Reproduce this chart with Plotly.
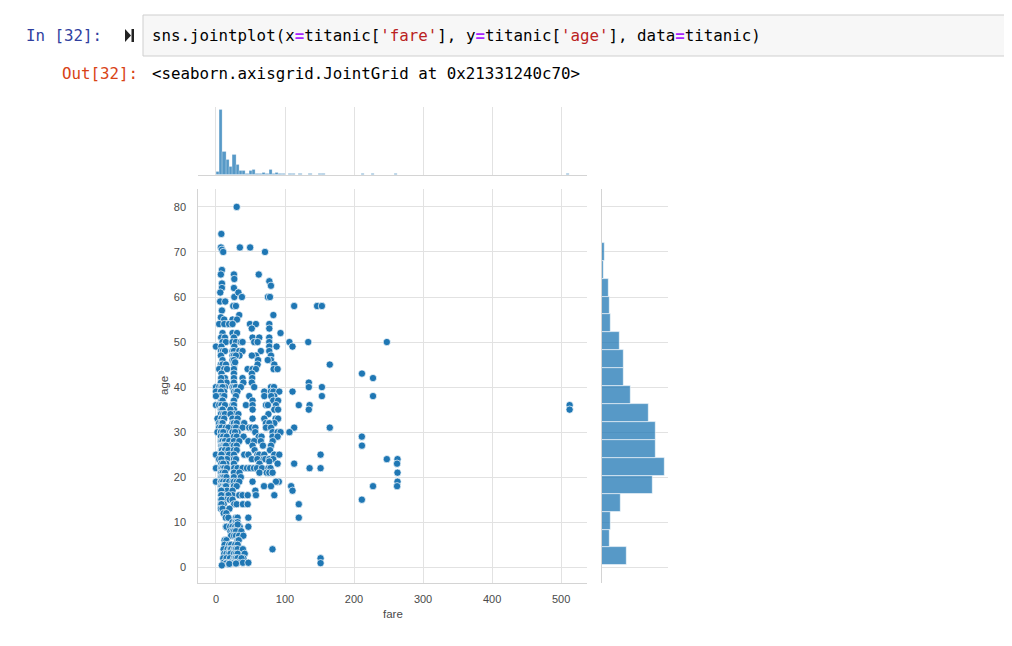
import plotly.graph_objects as go

# ---------------- scatter data (fare, age) ----------------
f1 = [30, 7.78, 7.23, 8.6, 10.5, 34.65, 49.5, 71.0]
a1 = [80, 74, 71, 70.5, 70, 71, 71, 70]
f2 = [8.6, 7.1, 26.0, 26.55, 61.98, 8.66, 8.6, 6.24, 26.0, 26.55, 32.5, 37.6, 77.3, 79.65, 75.25, 78.2, 6.1, 13.4]
a2 = [66, 65, 65, 64, 65, 63, 62, 61, 62, 60, 61, 60, 63.5, 62.5, 60, 60, 59, 59]
f3 = [8.6, 25.0, 28.9, 113.28, 146.52, 153.46, 7.1, 11.9, 24.0, 33.7, 83.16, 16.7, 30.5]
a3 = [57, 58, 58, 58, 58, 58, 55.5, 55, 55, 56, 56, 54, 55]
f4 = [4.6, 12.0, 19.0, 24.0, 49.2, 57.9, 77.29, 51.86, 77.29, 9.5, 24.0, 30.5, 53.0, 62.7, 77.2, 93.5, 7.5, 26.0, 13.0]
a4 = [54, 54, 54, 54, 54, 54, 54, 53, 53, 52, 52, 52, 51, 51, 51, 52, 51, 51, 51]
f5 = [0.0, 9.5, 14.3, 24.0, 28.9, 36.0, 38.5, 55.4, 60.3, 77.2, 77.3, 87.8, 106.43, 110.88, 133.65, 247.52, 7.8, 26.55]
a5 = [49, 50, 50, 50, 50, 50, 50, 50, 50, 50, 49, 49, 50, 49, 50, 50, 49, 49]
f6 = [7.1, 10.0, 13.0, 24.0, 26.0, 33.7, 38.5, 65.0, 77.2, 34.0, 7.1, 24.0, 26.0, 28.9, 57.9, 79.7, 52.0,
      9.5, 24.0, 26.0, 61.0, 79.7, 75.0]
a6 = [48, 48, 48, 48, 48, 48, 48, 48, 48, 47, 47, 47, 47, 47, 47, 47, 47,
      46, 46, 46, 46, 46, 46]
f7 = [7.1, 9.5, 14.5, 26.5, 27.7, 60.3, 84.5, 83.5, 164.87, 4.6, 11.9, 16.0, 26.0, 45.8, 53.0, 57.9, 89.3,
      211.5, 8.0, 26.0, 52.0]
a7 = [45, 45, 45, 45, 45.5, 45, 45, 44, 45, 44, 44, 44, 44, 44, 44, 44, 44,
      43, 43, 43, 43]
f8 = [9.5, 13.0, 26.0, 38.5, 227.52, 52.55, 7.5, 15.5, 7.1, 26.0, 39.7, 134.5, 51.9]
a8 = [42, 42, 42, 42, 42, 42, 42, 41, 41, 41, 41, 41, 41]
f9 = [0.0, 4.6, 7.8, 11.9, 24.0, 26.4, 28.9, 36.1, 55.4, 79.7, 84.0, 153.46, 134.5, 13.0, 9.5,
      0.0, 7.9, 11.9, 26.4, 29.1, 31.0, 70.0, 79.7, 83.2, 91.7, 110.88, 7.2]
a9 = [40, 40, 40, 40, 40, 40, 40, 40, 40, 40, 40, 40, 40, 40, 40,
      39, 39, 39, 39, 39, 39, 39, 39, 39, 39, 39, 39]
f10 = [4.6, 7.9, 11.9, 28.9, 48.2, 70.0, 84.5, 153.46, 227.52, 0.0, 80.0,
       7.9, 9.5, 26.0, 53.0, 83.0, 90.0]
a10 = [38, 38, 38, 38, 38, 38, 38, 38, 38, 38, 38,
       37, 37, 37, 37, 37, 37]
f11 = [0.0, 4.6, 7.9, 24.0, 26.0, 43.4, 53.0, 72.4, 86.9, 120.0, 135.63, 512.33, 75.25, 13.0,
       7.1, 8.0, 9.5, 24.0, 26.0, 53.1, 84.5, 90.0, 134.5, 512.33, 21.0]
a11 = [36, 36, 36, 36, 36, 36, 36, 36, 36, 36, 36, 36, 36, 36,
       35, 35, 35, 35, 35, 35, 35, 35, 35, 35, 35]
f12 = [7.1, 10.5, 13.0, 26.0, 32.5, 21.0, 76.0,
       2.2, 7.9, 11.9, 24.0, 31.3, 53.0, 70.0, 89.3, 86.5, 90.0]
a12 = [34, 34, 34, 34, 34, 34, 34,
       33, 33, 33, 33, 33, 33, 33, 33, 33, 33]
f13 = [4.6, 7.8, 9.5, 24.0, 26.0, 30.0, 40.9, 72.4, 84.5, 77.2,
       4.6, 7.8, 14.3, 18.0, 26.4, 29.0, 38.5, 48.2, 52.0, 72.4, 79.7, 113.28, 164.87, 57.0,
       2.2, 7.1, 8.0, 13.0, 24.0, 31.3, 56.9, 82.0, 89.3, 93.5, 106.43, 7.2, 10.5, 27.7]
a13 = [32, 32, 32, 32, 32, 32, 32, 32, 32, 32,
       31, 31, 31, 31, 31, 31, 31, 31, 31, 31, 31, 31, 31, 31,
       30, 30, 30, 30, 30, 30, 30, 30, 30, 30, 30, 30, 30, 30]
f14 = [7.1, 10.5, 15.5, 26.0, 30.0, 40.0, 62.0, 66.0, 211.34, 82.0, 89.3,
       7.1, 7.9, 9.5, 13.0, 19.2, 26.0, 33.7, 47.0, 55.4, 65.0, 82.2,
       7.8, 9.5, 11.0, 13.0, 21.0, 26.0, 30.0, 53.0, 68.0, 79.7, 211.5, 14.5]
a14 = [29, 29, 29, 29, 29, 29, 29, 29, 29, 29, 29,
       28, 28, 28, 28, 28, 28, 28, 28, 28, 28, 28,
       27, 27, 27, 27, 27, 27, 27, 27, 27, 27, 27, 27]
f15 = [7.8, 8.7, 13.0, 18.0, 26.0, 30.0, 56.0, 78.3,
       0.0, 7.1, 9.5, 13.0, 19.0, 26.0, 41.0, 47.0, 60.0, 62.7, 70.0, 84.5, 91.7, 151.55, 7.9,
       4.6, 9.0, 13.0, 16.0, 26.0, 29.0, 52.0, 60.0, 69.0, 71.5, 77.2, 83.0, 247.52, 263.0, 7.8]
a15 = [26, 26, 26, 26, 26, 26, 26, 26,
       25, 25, 25, 25, 25, 25, 25, 25, 25, 25, 25, 25, 25, 25, 25,
       24, 24, 24, 24, 24, 24, 24, 24, 24, 24, 24, 24, 24, 24, 24]
f16 = [7.9, 13.0, 15.0, 63.0, 89.3, 113.28, 262.38, 10.5, 26.0, 77.2,
       0.0, 7.2, 7.8, 9.5, 12.0, 16.0, 26.4, 31.3, 38.5, 45.0, 49.5, 55.0, 59.4, 66.6, 76.0, 79.0, 135.63, 151.55,
       7.1, 7.8, 9.8, 13.0, 26.0, 34.0, 63.0, 73.5, 77.3, 263.0, 82.0]
a16 = [23, 23, 23, 23, 23, 23, 23, 23, 23, 23.5,
       22, 22, 22, 22, 22, 22, 22, 22, 22, 22, 22, 22, 22, 22, 22, 22, 22, 22,
       21, 21, 21, 21, 21, 21, 21, 21, 21, 21, 21]
f17 = [7.1, 8.0, 9.8, 12.0, 15.2, 26.0, 36.0,
       0.0, 7.1, 8.0, 10.5, 14.5, 19.2, 24.0, 26.0, 30.0, 33.7, 53.0, 91.08, 263.0, 86.9,
       7.1, 7.8, 9.5, 12.0, 13.0, 26.0, 30.0, 69.6, 79.7, 108.9, 14.5, 227.52, 262.38,
       7.1, 8.0, 10.5, 16.0, 24.0, 57.0, 110.88, 7.7]
a17 = [20, 20, 20, 20, 20, 20, 20,
       19, 19, 19, 19, 19, 19, 19, 19, 19, 19, 19, 19, 19, 19,
       18, 18, 18, 18, 18, 18, 18, 18, 18, 18, 18, 18, 18,
       17, 17, 17, 17, 17, 17, 17, 17]
f18 = [8.0, 9.5, 10.5, 24.0, 33.7, 38.5, 46.0, 57.9, 84.5, 18.0, 7.7,
       7.2, 11.9, 14.5, 20.0, 24.0, 211.34, 8.0,
       7.1, 9.5, 11.2, 26.4, 30.0, 39.0, 46.0, 120.0, 7.9,
       7.2, 9.5, 19.5]
a18 = [16, 16, 16, 16, 16, 16, 16, 16, 16, 16, 16,
       15, 15, 15, 15, 15, 15, 15,
       14, 14, 14, 14, 14, 14, 14, 14, 14,
       13, 13, 13]
f19 = [11.2, 15.0,
       14.3, 18.0, 28.9, 31.3, 46.9, 120.0,
       24.0, 27.9, 29.1, 31.3,
       14.3, 15.2, 20.5, 24.0, 27.9, 31.3, 34.4, 46.9, 31.4]
a19 = [12, 12,
       11, 11, 11, 11, 11, 11,
       10, 10, 10, 10,
       9, 9, 9, 9, 9, 9, 9, 9, 9.5]
f20 = [21.0, 24.0, 26.3, 29.0, 36.7,
       22.0, 26.2, 29.0, 33.5, 39.7,
       12.5, 15.2, 31.3, 33.0,
       12.5, 19.3, 19.2, 22.0, 27.9, 31.4]
a20 = [8, 8, 8, 8, 8,
       7, 7, 7, 7, 7,
       6, 6, 6, 6,
       5, 5, 5, 5, 5, 5]
f21 = [11.1, 16.7, 20.5, 22.0, 26.0, 27.9, 29.1, 31.4, 39.0, 81.86,
       12.0, 15.2, 18.8, 21.0, 26.0, 29.1, 31.4, 41.6,
       10.5, 15.2, 20.2, 26.0, 27.9, 29.1, 31.3, 39.7, 151.55, 37.0,
       11.1, 15.7, 20.6, 26.0, 29.0, 31.3, 39.0, 46.9, 151.55, 14.4, 18.75, 8.5, 19.3, 29.0]
a21 = [4, 4, 4, 4, 4, 4, 4, 4, 4, 4,
       3, 3, 3, 3, 3, 3, 3, 3,
       2, 2, 2, 2, 2, 2, 2, 2, 2, 2,
       1, 1, 1, 1, 1, 1, 1, 1, 0.92, 0.83, 0.67, 0.42, 0.75, 0.83]

fare_bands = [f1, f2, f3, f4, f5, f6, f7, f8, f9, f10, f11, f12, f13, f14, f15, f16, f17, f18, f19, f20, f21]
age_bands = [a1, a2, a3, a4, a5, a6, a7, a8, a9, a10, a11, a12, a13, a14, a15, a16, a17, a18, a19, a20, a21]
fare, age = [], []
for i, (fb, ab) in enumerate(zip(fare_bands, age_bands)):
    assert len(fb) == len(ab), (i + 1, len(fb), len(ab))
    fare += fb
    age += ab

# ---------------- marginal histograms (counts) ----------------
fare_bin_start = 0.0
fare_bin_width = 512.3292 / 107
fare_counts = [15, 305, 107, 70, 39, 94, 47, 19, 19, 5, 19, 24, 5, 5, 13, 5, 24, 5, 13, 5,
               4, 0, 6, 6, 0, 6, 0, 0, 6, 0, 0, 6, 6, 0, 3, 0, 0, 0, 0, 0,
               0, 0, 0, 0, 5, 0, 3, 6, 0, 0, 0, 3, 0, 0, 6, 0, 0, 0, 0, 0,
               0, 0, 0, 0, 0, 0, 0, 0, 0, 0, 0, 0, 0, 0, 0, 0, 0, 0, 0, 0,
               0, 0, 0, 0, 0, 0, 0, 0, 0, 0, 0, 0, 0, 0, 0, 0, 0, 0, 0, 0,
               0, 0, 0, 0, 0, 0, 5]

age_bin_start = 0.42
age_bin_width = (80 - 0.42) / 20
age_counts = [40, 12, 14, 30, 80, 100, 86, 86, 75, 46, 35, 35, 28, 14, 12, 11, 3, 4, 0, 0]

x_ticks = [0, 100, 200, 300, 400, 500]
y_ticks = [0, 10, 20, 30, 40, 50, 60, 70, 80]

code_text = ("sns.jointplot(x<b><span style='color:#AA22FF'>=</span></b>titanic[<span style='color:#BA2121'>'fare'</span>], "
             "y<b><span style='color:#AA22FF'>=</span></b>titanic[<span style='color:#BA2121'>'age'</span>], "
             "data<b><span style='color:#AA22FF'>=</span></b>titanic)")
out_text = "&lt;seaborn.axisgrid.JointGrid at 0x21331240c70&gt;"

# ---------------- layout helpers (page has an 8px body margin) ----------------
OFF = 8
W, H = 1012 - OFF, 646 - OFF
def px(p):
    return (p - OFF) / W
def py(p):
    return 1 - (p - OFF) / H

BLUE = "#1f77b4"
HIST = "rgba(31,119,180,0.75)"
GRID = "#e2e2e2"
SPINE = "#d4d4d4"
TICKC = "#4a4a4a"
TFONT = dict(family="Liberation Sans, Arial, sans-serif", size=11, color=TICKC)
MONO = "DejaVu Sans Mono, Liberation Mono, monospace"

fx_c = [fare_bin_start + (i + 0.5) * fare_bin_width for i, c in enumerate(fare_counts) if c > 0]
fx_v = [c for c in fare_counts if c > 0]
ay_c = [age_bin_start + (i + 0.5) * age_bin_width for i, c in enumerate(age_counts) if c > 0]
ay_v = [c for c in age_counts if c > 0]

fig = go.Figure()
fig.add_trace(go.Scatter(x=fare, y=age, mode="markers", xaxis="x", yaxis="y",
                         marker=dict(color=BLUE, size=7.3, line=dict(color="white", width=0.7)),
                         showlegend=False, hoverinfo="skip"))
fig.add_trace(go.Bar(x=fx_c, y=fx_v, width=fare_bin_width, xaxis="x2", yaxis="y2",
                     marker=dict(color=HIST, line=dict(color="rgba(255,255,255,0.6)", width=0.4)),
                     showlegend=False))
fig.add_trace(go.Bar(y=ay_c, x=ay_v, width=age_bin_width, orientation="h", xaxis="x3", yaxis="y3",
                     marker=dict(color=HIST, line=dict(color="rgba(255,255,255,0.7)", width=0.8)),
                     showlegend=False))

main_x = [px(198.3), px(587.3)]
main_y = [py(583.3), py(189)]
xr = [-25.6, 537.95]
yr = [-3.56, 83.98]

fig.update_layout(
    width=W, height=H, margin=dict(l=0, r=0, t=0, b=0),
    paper_bgcolor="white", plot_bgcolor="white", bargap=0,
    xaxis=dict(domain=main_x, range=xr, anchor="y", tickvals=x_ticks, showgrid=True, gridcolor=GRID,
               gridwidth=1, zeroline=False, showline=True, linecolor=SPINE, linewidth=1, ticks="",
               tickfont=TFONT, ticklabelstandoff=5),
    yaxis=dict(domain=main_y, range=yr, anchor="x", tickvals=y_ticks, showgrid=True, gridcolor=GRID,
               gridwidth=1, zeroline=False, showline=True, linecolor=SPINE, linewidth=1, ticks="",
               tickfont=TFONT, ticklabelstandoff=9),
    xaxis2=dict(domain=main_x, range=xr, anchor="y2", matches="x", tickvals=x_ticks, showgrid=True,
                gridcolor=GRID, zeroline=False, showline=True, linecolor=SPINE, linewidth=1,
                showticklabels=False, ticks=""),
    yaxis2=dict(domain=[py(175), py(106.7)], range=[0, 305 * 1.05], anchor="x2", showgrid=False,
                zeroline=False, showline=False, showticklabels=False, ticks=""),
    xaxis3=dict(domain=[px(601.7), px(668)], range=[0, 105], anchor="y3", showgrid=False,
                zeroline=False, showline=False, showticklabels=False, ticks=""),
    yaxis3=dict(domain=main_y, range=yr, anchor="x3", matches="y", tickvals=y_ticks, showgrid=True,
                gridcolor=GRID, zeroline=False, showline=True, linecolor=SPINE, linewidth=1,
                showticklabels=False, ticks=""),
)

# notebook chrome
fig.add_shape(type="rect", xref="paper", yref="paper", x0=px(143), x1=px(1016), y0=py(56), y1=py(15),
              fillcolor="#f7f7f7", line=dict(color="#cfcfcf", width=1), layer="below")
fig.add_shape(type="path", xref="paper", yref="paper",
              path=f"M {px(125)} {py(29)} L {px(131)} {py(35.5)} L {px(125)} {py(42)} Z",
              fillcolor="#222222", line=dict(width=0))
fig.add_shape(type="rect", xref="paper", yref="paper", x0=px(131.5), x1=px(134), y0=py(42), y1=py(29),
              fillcolor="#222222", line=dict(width=0))

ann = [
    dict(text="In [32]:", x=px(24), y=py(35), xanchor="left", yanchor="middle",
         font=dict(family=MONO, size=15.8, color="#303F9F")),
    dict(text=code_text, x=px(150), y=py(35), xanchor="left", yanchor="middle",
         font=dict(family=MONO, size=15.8, color="#000000")),
    dict(text="Out[32]:", x=px(60), y=py(74), xanchor="left", yanchor="middle",
         font=dict(family=MONO, size=15.8, color="#D84315")),
    dict(text=out_text, x=px(150), y=py(74), xanchor="left", yanchor="middle",
         font=dict(family=MONO, size=15.8, color="#000000")),
    dict(text="fare", x=px(392.8), y=py(614), xanchor="center", yanchor="middle",
         font=dict(family="Liberation Sans, Arial, sans-serif", size=11.5, color=TICKC)),
    dict(text="age", x=px(164), y=py(386), xanchor="center", yanchor="middle", textangle=-90,
         font=dict(family="Liberation Sans, Arial, sans-serif", size=11.5, color=TICKC)),
]
for a in ann:
    fig.add_annotation(xref="paper", yref="paper", showarrow=False, **a)

fig.write_html("out.html")
